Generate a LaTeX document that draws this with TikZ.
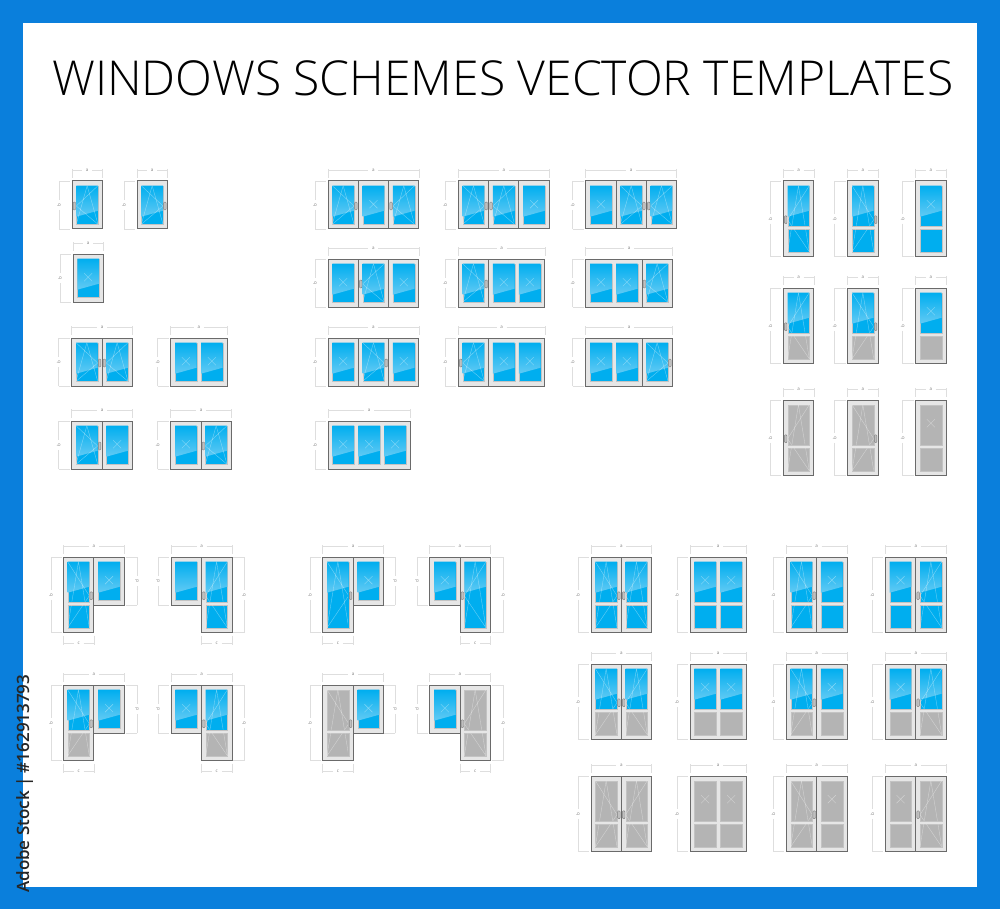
\documentclass[tikz,border=0pt]{standalone}
\usepackage{fontspec}
\setmainfont{Open Sans}
\newfontfamily\titlefont{Open Sans Light}
\newfontfamily\stockfont{Open Sans Semibold}
\definecolor{bordercol}{HTML}{0A7FDC}
\definecolor{glasscol}{HTML}{00AEEF}
\definecolor{glasslight}{HTML}{62CAF4}
\definecolor{panelcol}{HTML}{B4B4B4}
\definecolor{framecol}{HTML}{E6E6E6}
\definecolor{edgecol}{HTML}{6A6A6A}
\definecolor{dimcol}{HTML}{DEDEDE}
\tikzstyle{frame} = [fill=framecol, draw=edgecol, line width=1pt]
\tikzstyle{divider} = [draw=edgecol, line width=1pt]
\tikzstyle{blueglass} = [fill=glasscol, draw=framecol!85!black, line width=0.2pt]
\tikzstyle{grayglass} = [fill=panelcol, draw=framecol!85!black, line width=0.2pt]
\tikzstyle{reflect} = [top color=glasscol, bottom color=glasslight]
\tikzstyle{sashline} = [draw=white, opacity=0.4, line width=0.4pt]
\tikzstyle{handle} = [fill=black!25, draw=black!50, line width=0.4pt, rounded corners=1pt]
\tikzstyle{dimline} = [draw=dimcol, line width=0.45pt]
\tikzstyle{dimtext} = [text=gray, font=\fontsize{4.5}{5}\selectfont, inner sep=0pt]
\newcommand{\dimtop}[4]{
    \draw [dimline] (#1,#3-12) -- (#1,#3-3) (#2,#3-12) -- (#2,#3-3);
    \draw [dimline] (#1,#3-11) -- ({(#1+#2)/2-5},#3-11) ({(#1+#2)/2+5},#3-11) -- (#2,#3-11);
    \node (dimlabel) [dimtext] at ({(#1+#2)/2},#3-11) {#4};
}
\newcommand{\dimbot}[4]{
    \draw [dimline] (#1,#3+3) -- (#1,#3+12) (#2,#3+3) -- (#2,#3+12);
    \draw [dimline] (#1,#3+11) -- ({(#1+#2)/2-5},#3+11) ({(#1+#2)/2+5},#3+11) -- (#2,#3+11);
    \node (dimlabel) [dimtext] at ({(#1+#2)/2},#3+11) {#4};
}
% x of the dimension line, then the two ends
\newcommand{\dimside}[5]{
    \draw [dimline] (#1,#2) -- (#1+#5,#2) (#1,#3) -- (#1+#5,#3);
    \draw [dimline] (#1,#2) -- (#1,{(#2+#3)/2-5}) (#1,{(#2+#3)/2+5}) -- (#1,#3);
    \node (dimlabel) [dimtext, rotate=90] at (#1,{(#2+#3)/2}) {#4};
}
% x, y, width, height, upper glass, lower glass, list of panes
\newcommand{\win}[7]{
    \draw [frame] (#1,#2) rectangle ++(#3,#4);
    \xdef\wincur{#1}
    \edef\panelist{#7}
    \foreach \kind [count=\pn] in \panelist {
        \ifnum\pn>1
            \if\kind m
                \pgfmathsetmacro\nextcur{\wincur+26}
                \xdef\wincur{\nextcur}
            \else
                \pgfmathsetmacro\nextcur{\wincur+30.3}
                \xdef\wincur{\nextcur}
                \draw [divider] (\wincur,#2) -- (\wincur,#2+#4);
            \fi
        \fi
        \pgfmathsetmacro\glx{\wincur+4.3}
        \pgfmathsetmacro\grx{\wincur+26}
        \pgfmathsetmacro\gmx{\wincur+15.15}
        \pgfmathsetmacro\gty{#2+4.7}
        \pgfmathsetmacro\midy{#2+#4/2+1}
        \if#6n
            \pgfmathsetmacro\upb{#2+#4-4.7}
            \pgfmathsetmacro\lowt{\upb}
        \else
            \pgfmathsetmacro\upb{#2+44.7}
            \pgfmathsetmacro\lowt{#2+48.3}
        \fi
        \pgfmathsetmacro\lowb{#2+#4-4.7}
        \if#5b
            \draw [blueglass] (\glx,\gty) rectangle (\grx,\upb);
            \shade [reflect] (\glx,\gty) -- (\grx,\gty) -- (\grx,\gty+25) -- (\glx,\gty+31) -- cycle;
        \else
            \draw [grayglass] (\glx,\gty) rectangle (\grx,\upb);
        \fi
        \if#6b
            \draw [blueglass] (\glx,\lowt) rectangle (\grx,\lowb);
        \fi
        \if#6g
            \draw [grayglass] (\glx,\lowt) rectangle (\grx,\lowb);
        \fi
        \if\kind r
            \begin{scope}
                \clip (\glx,\gty) rectangle (\grx,\upb) (\glx,\lowt) rectangle (\grx,\lowb);
                \draw [sashline] (\glx,\gty) -- (\grx,\midy) -- (\glx,\lowb);
                \draw [sashline] (\glx,\lowb) -- (\gmx,\gty) -- (\grx,\lowb);
            \end{scope}
            \draw [handle] (\wincur+26.6,\midy+4) rectangle (\wincur+29.2,\midy-4);
        \fi
        \if\kind l
            \begin{scope}
                \clip (\glx,\gty) rectangle (\grx,\upb) (\glx,\lowt) rectangle (\grx,\lowb);
                \draw [sashline] (\grx,\gty) -- (\glx,\midy) -- (\grx,\lowb);
                \draw [sashline] (\glx,\lowb) -- (\gmx,\gty) -- (\grx,\lowb);
            \end{scope}
            \draw [handle] (\wincur+1.1,\midy+4) rectangle (\wincur+3.7,\midy-4);
        \fi
        \if\kind f
            \draw [sashline] (\gmx-4,\gty+14.5) -- (\gmx+4,\gty+22.5) (\gmx-4,\gty+22.5) -- (\gmx+4,\gty+14.5);
        \fi
        \if\kind m
            \draw [sashline] (\gmx-4,\gty+14.5) -- (\gmx+4,\gty+22.5) (\gmx-4,\gty+22.5) -- (\gmx+4,\gty+14.5);
        \fi
    }
}
\newcommand{\dwin}[7]{
    \dimtop{#1}{#1+#3}{#2}{a}
    \dimside{#1-13}{#2}{#2+#4}{b}{11}
    \win{#1}{#2}{#3}{#4}{#5}{#6}{#7}
}
\begin{document}
\begin{tikzpicture}[x=1pt,y=-1pt]
    \useasboundingbox (0,0) rectangle (1000,909);
    \fill [bordercol] (0,0) rectangle (1000,909);
    \fill [white] (23,23) rectangle (977,886.5);

    \node (title) [anchor=base west, inner sep=0pt, font=\titlefont\fontsize{48.1}{48.1}\selectfont] at (52,96) {WINDOWS SCHEMES VECTOR TEMPLATES};
    \node (stocklabel) [anchor=base west, rotate=90, inner sep=0pt, text=black!85, font=\stockfont\fontsize{17}{17}\selectfont] at (29,893) {Adobe Stock | \#162913793};

    \dwin{72}{181}{30.3}{48}{b}{n}{l}
    \dwin{137}{181}{30.3}{48}{b}{n}{r}
    \dwin{73}{254}{30.3}{48}{b}{n}{f}
    \dwin{71.7}{338}{60.6}{48}{b}{n}{r,l}
    \dwin{170.7}{338}{56.3}{48}{b}{n}{f,m}
    \dwin{71.7}{421}{60.6}{48}{b}{n}{r,f}
    \dwin{170.7}{421}{60.6}{48}{b}{n}{f,l}

    \dwin{328}{181}{90.9}{48}{b}{n}{r,f,l}
    \dwin{458.3}{181}{90.9}{48}{b}{n}{r,l,f}
    \dwin{585.7}{181}{90.9}{48}{b}{n}{f,r,l}
    \dwin{328}{259}{90.9}{48}{b}{n}{f,l,f}
    \dwin{458.3}{259}{86.6}{48}{b}{n}{r,f,m}
    \dwin{585.7}{259}{86.6}{48}{b}{n}{f,m,l}
    \dwin{328}{338}{90.9}{48}{b}{n}{f,r,f}
    \dwin{458.3}{338}{86.6}{48}{b}{n}{l,f,m}
    \dwin{585.7}{338}{86.6}{48}{b}{n}{f,m,r}
    \dwin{328}{421}{82.3}{48}{b}{n}{f,m,m}

    \foreach \rowy/\upc/\lowc in {181/b/b, 288/b/g, 400/g/g} {
        \dwin{783.3}{\rowy}{30.5}{75.5}{\upc}{\lowc}{l}
        \dwin{847.7}{\rowy}{30.5}{75.5}{\upc}{\lowc}{r}
        \dwin{915.7}{\rowy}{30.5}{75.5}{\upc}{\lowc}{f}
    }

    % corner units, door part and window part
    \foreach \rowy/\upc/\lowc/\sidek in {557/b/b/p, 685/b/g/f} {
        \dimtop{63.3}{124.3}{\rowy}{a}
        \dimside{51}{\rowy}{\rowy+75.5}{b}{11}
        \dimside{137}{\rowy}{\rowy+48}{d}{-11}
        \dimbot{63.3}{94}{\rowy+75.5}{c}
        \win{63.3}{\rowy}{30.6}{75.5}{\upc}{\lowc}{r}
        \win{93.9}{\rowy}{30.4}{48}{b}{n}{f}
        \dimtop{171}{232}{\rowy}{a}
        \dimside{158}{\rowy}{\rowy+48}{d}{11}
        \dimside{244}{\rowy}{\rowy+75.5}{b}{-11}
        \dimbot{201.5}{232}{\rowy+75.5}{c}
        \win{171}{\rowy}{30.4}{48}{b}{n}{\sidek}
        \win{201.4}{\rowy}{30.6}{75.5}{\upc}{\lowc}{l}
    }
    \foreach \rowy/\upc/\lowc/\sideu in {557/b/n/b, 685/g/g/b} {
        \dimtop{322.7}{383.3}{\rowy}{a}
        \dimside{310}{\rowy}{\rowy+75.5}{b}{11}
        \dimside{395}{\rowy}{\rowy+48}{d}{-11}
        \dimbot{322.7}{353}{\rowy+75.5}{c}
        \win{322.7}{\rowy}{30.6}{75.5}{\upc}{\lowc}{r}
        \win{353.3}{\rowy}{30}{48}{\sideu}{n}{f}
        \dimtop{429.5}{490.3}{\rowy}{a}
        \dimside{417}{\rowy}{\rowy+48}{d}{11}
        \dimside{503}{\rowy}{\rowy+75.5}{b}{-11}
        \dimbot{460}{490.3}{\rowy+75.5}{c}
        \win{429.7}{\rowy}{30.3}{48}{\sideu}{n}{f}
        \win{460}{\rowy}{30.4}{75.5}{\upc}{\lowc}{l}
    }

    \foreach \rowy/\upc/\lowc in {557/b/b, 664/b/g, 776/g/g} {
        \dwin{591}{\rowy}{60.7}{75.5}{\upc}{\lowc}{r,l}
        \dwin{690}{\rowy}{56.3}{75.5}{\upc}{\lowc}{f,m}
        \dwin{786.3}{\rowy}{60.7}{75.5}{\upc}{\lowc}{r,f}
        \dwin{885.4}{\rowy}{60.7}{75.5}{\upc}{\lowc}{f,l}
    }
\end{tikzpicture}
\end{document}
